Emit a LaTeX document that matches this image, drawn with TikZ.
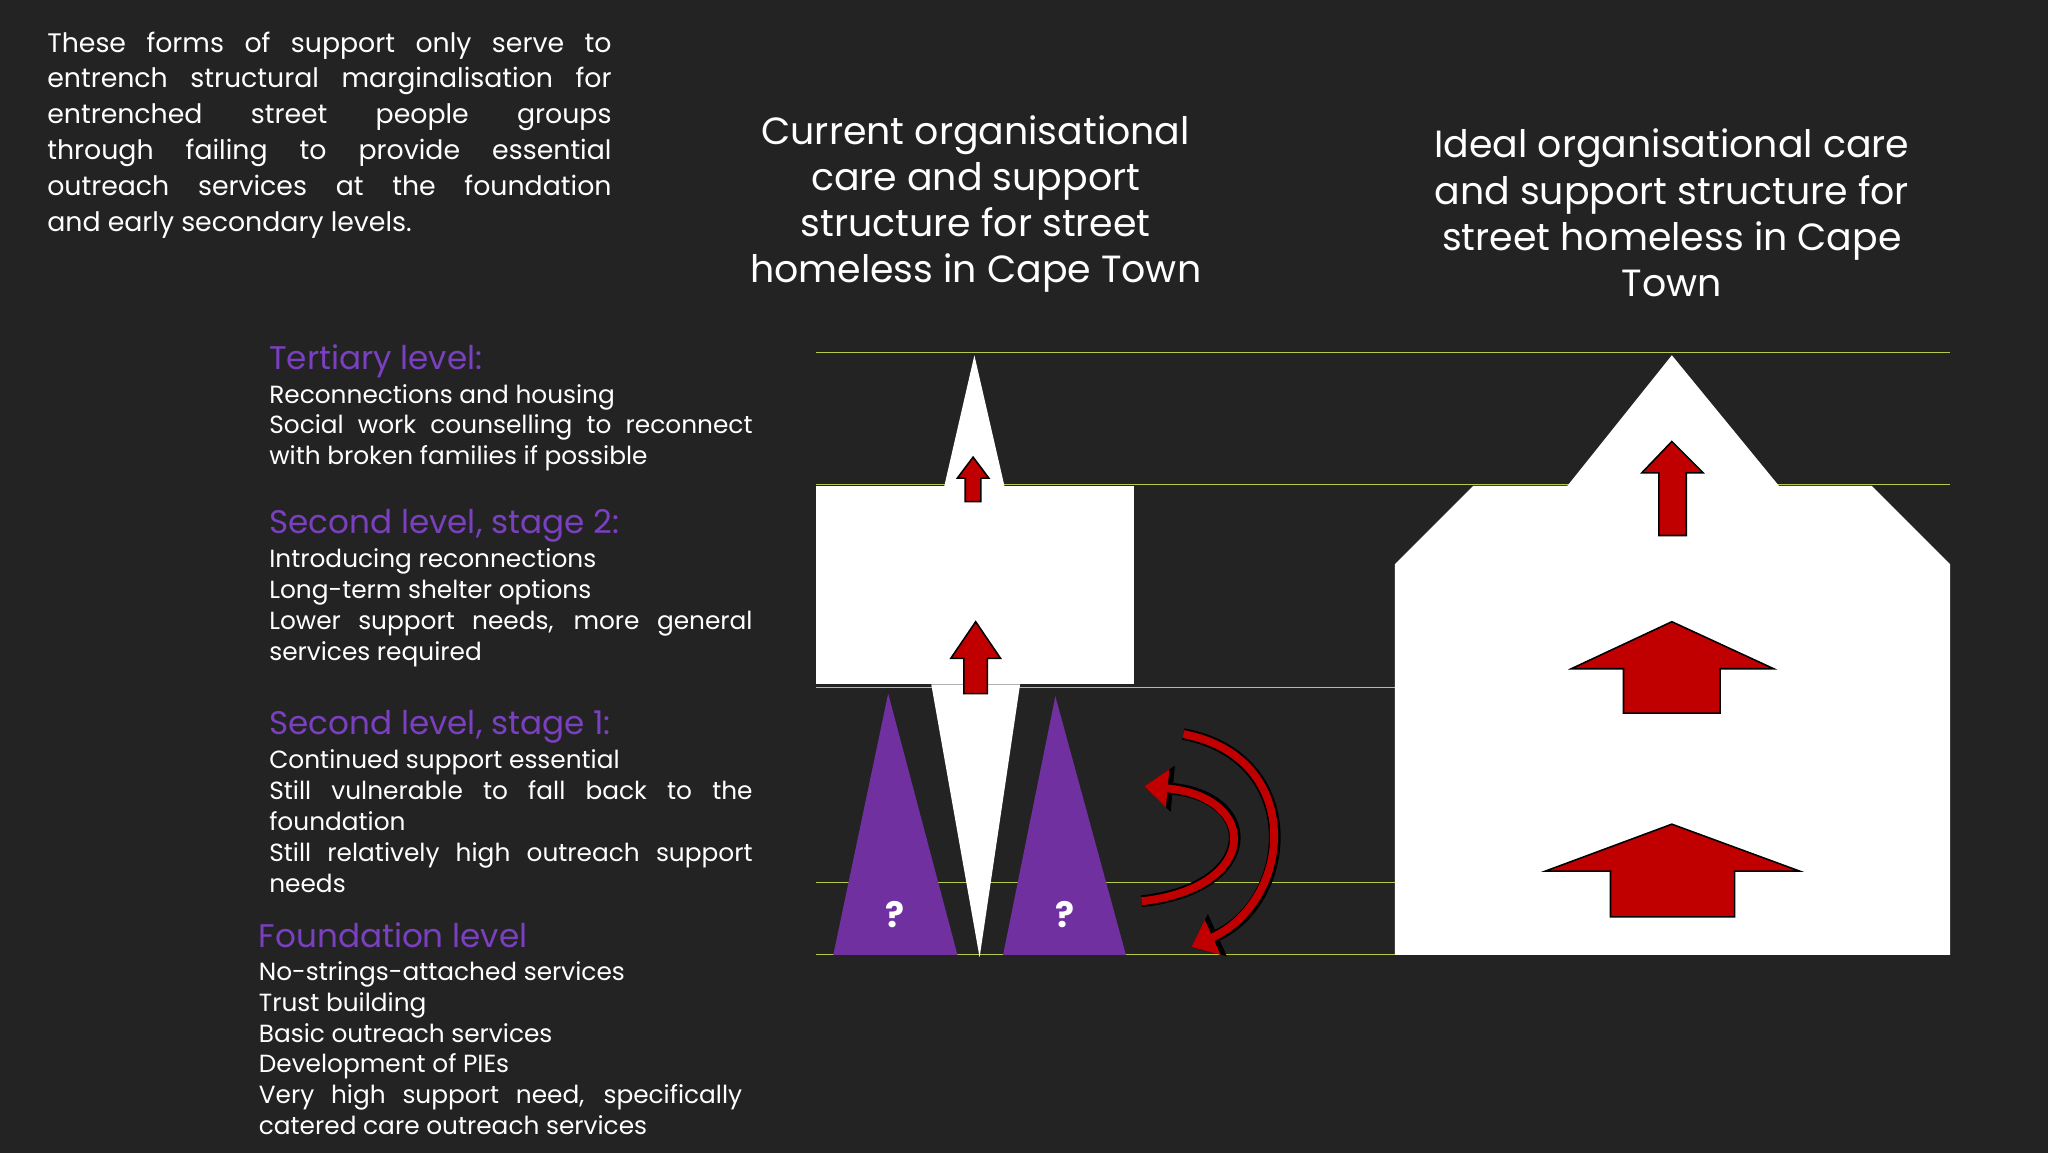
\documentclass[tikz,border=0pt]{standalone}
\usepackage{fontspec}
\setmainfont{Poppins}
\usetikzlibrary{arrows.meta}
\hyphenpenalty=10000 \exhyphenpenalty=10000 \tolerance=9999 \emergencystretch=20pt
\definecolor{bg}{HTML}{232323}
\definecolor{gl}{HTML}{B5C94A}
\definecolor{pur}{HTML}{7030A0}
\definecolor{hp}{HTML}{7A40C0}
\definecolor{ar}{HTML}{C00000}
\tikzset{
 gline/.style={gl, line width=0.8pt},
 redarr/.style={fill=ar, draw=black, line width=1.2pt},
 body/.style={anchor=north west, inner sep=0, text=white, align=justify, font=\fontsize{19}{23.6}\selectfont},
 head/.style={anchor=north west, inner sep=0, text=hp, font=\fontsize{25}{28}\selectfont},
 title/.style={text=white, align=center, inner sep=0, font=\fontsize{29}{35.3}\selectfont}
}
\begin{document}
\begin{tikzpicture}[x=1pt,y=-1pt]
\fill[bg] (0,0) rectangle (1568,883);
\useasboundingbox (0,0) rectangle (1568,883);
% green lines
\foreach \yy in {270,371,526,676,731} \draw[gline] (625,\yy) -- (1493,\yy);
% current structure
\fill[white] (625,372) rectangle (868,524);
\fill[white] (723,372) -- (746,272) -- (769,372) -- cycle;
\fill[white] (713,524) -- (781,524) -- (750,733) -- cycle;
\fill[pur] (638,731) -- (680,531) -- (733,731) -- cycle;
\fill[pur] (768,731) -- (808,533) -- (862,731) -- cycle;
\node[text=white, font=\bfseries\fontsize{27}{27}\selectfont] (q1) at (685,700) {?};
\node[text=white, font=\bfseries\fontsize{27}{27}\selectfont] (q2) at (815,700) {?};
\draw[redarr] (745,350) -- (757,366) -- (751,366) -- (751,384) -- (739,384) -- (739,366) -- (733,366) -- cycle;
\draw[redarr] (747,476) -- (766,504) -- (756,504) -- (756,531) -- (738,531) -- (738,504) -- (728,504) -- cycle;
% curved arrows
\coordinate (a1) at (906,562);
\coordinate (a2) at (912,725);
\coordinate (b1) at (874,690);
\coordinate (b2) at (876,602);
\draw[black, line width=9pt, -{Triangle[length=22pt,width=34pt]}] (a1) .. controls (1000,580) and (990,690) .. (a2);
\draw[ar, line width=6pt, -{Triangle[length=18pt,width=28pt]}] (a1) .. controls (1000,580) and (990,690) .. (a2);
\draw[black, line width=9pt, -{Triangle[length=22pt,width=34pt]}] (b1) .. controls (965,680) and (965,610) .. (b2);
\draw[ar, line width=6pt, -{Triangle[length=18pt,width=28pt]}] (b1) .. controls (965,680) and (965,610) .. (b2);
% ideal house
\fill[white] (1068,731) -- (1068,432) -- (1128,372) -- (1200,372) -- (1280,272) -- (1362,372) -- (1433,372) -- (1493,432) -- (1493,731) -- cycle;
\draw[redarr] (1280,338) -- (1304,362) -- (1291,362) -- (1291,410) -- (1270,410) -- (1270,362) -- (1257,362) -- cycle;
\draw[redarr] (1280,476) -- (1358,512) -- (1317,512) -- (1317,546) -- (1243,546) -- (1243,512) -- (1203,512) -- cycle;
\draw[redarr] (1280,631) -- (1378,667) -- (1328,667) -- (1328,702) -- (1233,702) -- (1233,667) -- (1183,667) -- cycle;
% titles
\node[title] (t1) at (747,156) {Current organisational\\care and support\\structure for street\\homeless in Cape Town};
\node[title] (t2) at (1280,163) {Ideal organisational care\\and support structure for\\street homeless in Cape\\Town};
% top-left paragraph
\node[anchor=north west, inner sep=0, text=white, align=justify, text width=432pt, font=\fontsize{20.5}{27.4}\selectfont] (p) at (36,24) {These forms of support only serve to\linebreak entrench structural marginalisation for\linebreak entrenched street people groups\linebreak through failing to provide essential\linebreak outreach services at the foundation\linebreak and early secondary levels.};
% tiers
\node[head] (h1) at (206,264) {Tertiary level:};
\node[body, text width=370pt] (b1t) at (206,294) {Reconnections and housing\\Social work counselling to reconnect with broken families if possible};
\node[head] (h2) at (206,390) {Second level, stage 2:};
\node[body, text width=370pt] (b2t) at (206,420) {Introducing reconnections\\Long-term shelter options\\Lower support needs, more general services required};
\node[head] (h3) at (206,544) {Second level, stage 1:};
\node[body, text width=370pt] (b3t) at (206,574) {Continued support essential\\Still vulnerable to fall back to the foundation\\Still relatively high outreach support needs};
\node[head] (h4) at (198,706) {Foundation level};
\node[body, text width=370pt] (b4t) at (198,736) {No-strings-attached services\\Trust building\\Basic outreach services\\Development of PIEs\\Very high support need, specifically catered care outreach services};
\end{tikzpicture}
\end{document}
